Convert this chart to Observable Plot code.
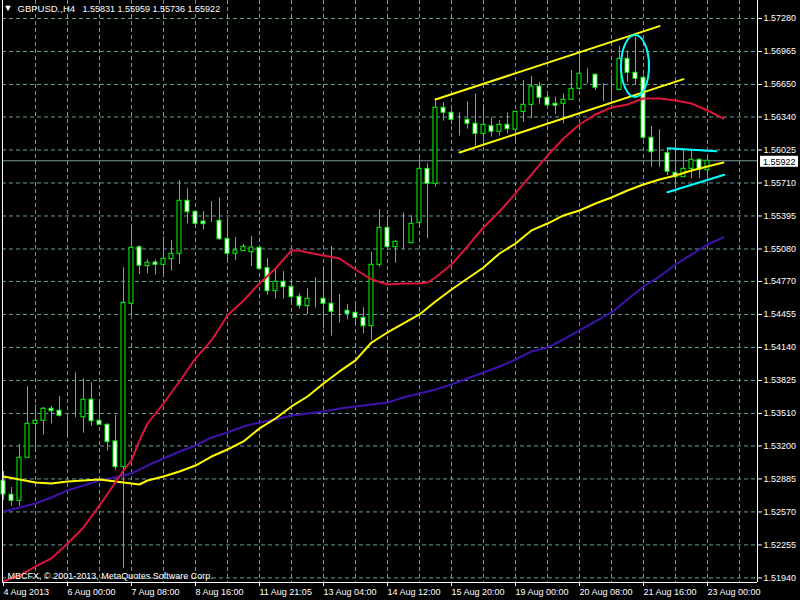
<!DOCTYPE html>
<html><head><meta charset="utf-8">
<script src="https://cdn.jsdelivr.net/npm/d3@7"></script>
<script src="https://cdn.jsdelivr.net/npm/@observablehq/plot@0.6"></script>
<style>html,body{margin:0;padding:0;background:#000;}#chart{width:800px;height:600px;}</style>
</head><body><div id="chart"></div>
<script>
// ---- data ----
const symbol = "GBPUSD.,H4";
const lastOHLC = [1.55831, 1.55959, 1.55736, 1.55922];
const copyright = "MBCFX, © 2001-2013, MetaQuotes Software Corp.";

const opens = [1.52864,1.52734,1.52676,1.53087,1.53411,1.53440,1.53555,1.53536,1.53497,1.53497,
1.53474,1.53641,1.53440,1.53402,1.53243,1.52997,1.54557,1.55097,1.54916,1.54951,
1.54929,1.54983,1.55034,1.55540,1.55435,1.55342,1.55345,1.55349,1.55177,1.55034,
1.55059,1.55049,1.55091,1.54897,1.54677,1.54767,1.54719,1.54624,1.54534,1.54610,
1.54605,1.54557,1.54480,1.54490,1.54471,1.54423,1.54343,1.54929,1.55282,1.55097,
1.55145,1.55135,1.55330,1.55845,1.55702,1.56428,1.56380,1.56319,1.56313,1.56275,
1.56179,1.56252,1.56199,1.56265,1.56218,1.56389,1.56456,1.56631,1.56523,1.56466,
1.56466,1.56504,1.56609,1.56752,1.56743,1.56612,1.56602,1.56599,1.56895,1.56762,
1.56714,1.56141,1.56001,1.55994,1.55807,1.55765,1.55845,1.55931,1.55831];
const highs = [1.52956,1.52803,1.53214,1.53767,1.53593,1.53567,1.53577,1.53672,1.53510,1.53898,
1.53841,1.53803,1.53612,1.53411,1.53491,1.54900,1.55311,1.55110,1.54977,1.54977,
1.55196,1.55161,1.55734,1.55655,1.55447,1.55438,1.55533,1.55569,1.55364,1.55190,
1.55123,1.55199,1.55104,1.54989,1.54887,1.54865,1.54795,1.54652,1.54700,1.54805,
1.54906,1.55104,1.54646,1.54550,1.54541,1.54519,1.55049,1.55454,1.55390,1.55160,
1.55425,1.55397,1.55937,1.55893,1.56514,1.56475,1.56409,1.56380,1.56485,1.56561,
1.56456,1.56332,1.56304,1.56380,1.56395,1.56688,1.56726,1.56669,1.56545,1.56529,
1.56561,1.56784,1.56953,1.56800,1.56752,1.56657,1.56736,1.57013,1.56968,1.57101,
1.56736,1.56249,1.56218,1.56036,1.56125,1.56020,1.56020,1.55941,1.55959];
const lows = [1.52679,1.52625,1.52625,1.53087,1.53173,1.53303,1.53411,1.53474,1.53287,1.53469,
1.53322,1.53389,1.53402,1.53150,1.52966,1.52030,1.54438,1.54834,1.54843,1.54830,
1.54834,1.54868,1.54932,1.55320,1.55314,1.55263,1.55333,1.55161,1.54944,1.54970,
1.55056,1.54913,1.54884,1.54636,1.54601,1.54601,1.54550,1.54505,1.54452,1.54515,
1.54318,1.54248,1.54372,1.54404,1.54350,1.54271,1.54207,1.54906,1.55066,1.54944,
1.55072,1.55129,1.55288,1.55177,1.55670,1.56300,1.56265,1.56157,1.56223,1.56061,
1.56084,1.56147,1.56157,1.56179,1.56084,1.56290,1.56323,1.56456,1.56440,1.56364,
1.56275,1.56504,1.56593,1.56657,1.56593,1.56488,1.56488,1.56599,1.56672,1.56641,
1.56125,1.55861,1.55861,1.55781,1.55655,1.55765,1.55750,1.55750,1.55736];
const closes = [1.52737,1.52676,1.53087,1.53411,1.53440,1.53555,1.53532,1.53488,1.53497,1.53497,
1.53641,1.53436,1.53402,1.53236,1.52997,1.54566,1.55091,1.54920,1.54948,1.54929,
1.54986,1.55034,1.55540,1.55431,1.55320,1.55317,1.55345,1.55173,1.55034,1.55066,
1.55101,1.55094,1.54887,1.54677,1.54767,1.54715,1.54620,1.54538,1.54605,1.54610,
1.54557,1.54480,1.54480,1.54461,1.54423,1.54343,1.54929,1.55282,1.55097,1.55149,
1.55145,1.55320,1.55845,1.55702,1.56428,1.56380,1.56313,1.56319,1.56275,1.56179,
1.56265,1.56199,1.56265,1.56223,1.56389,1.56456,1.56631,1.56523,1.56450,1.56447,
1.56504,1.56609,1.56752,1.56752,1.56619,1.56612,1.56602,1.56895,1.56762,1.56704,
1.56141,1.56004,1.56001,1.55817,1.55765,1.55845,1.55931,1.55836,1.55922];

// moving averages (bar index, price), drawn shifted 2 bars forward as in the terminal
const maRedIdx = [0,2,4,6,8,10,12,14,15,16,17,18,20,22,24,26,28,30,32,34,36,37,38,40,42,44,46,48,50,52,53,54,56,58,60,62,64,66,68,70,72,74,76,78,80,82,84,86,88,90];
const maRed = [1.51909,1.51963,1.52049,1.52126,1.52269,1.52422,1.52632,1.52851,1.52966,1.53061,1.53252,1.53414,
1.53605,1.53815,1.54035,1.54207,1.54445,1.54588,1.54751,1.54894,1.55066,1.55066,1.55047,1.55018,1.54989,1.54884,
1.54789,1.54741,1.54751,1.54751,1.54760,1.54808,1.54932,1.55104,1.55285,1.55438,1.55610,1.55791,1.55972,1.56135,
1.56268,1.56364,1.56431,1.56459,1.56516,1.56516,1.56497,1.56469,1.56402,1.56325];
const maYellowIdx = [0,2,4,6,8,10,12,14,16,17,18,20,22,24,26,28,30,32,34,36,38,40,42,44,46,48,50,52,54,56,58,60,62,64,66,68,70,72,74,76,78,80,82,84,86,88,90];
const maYellow = [1.52908,1.52880,1.52851,1.52842,1.52861,1.52870,1.52880,1.52861,1.52842,1.52832,1.52870,
1.52908,1.52956,1.53013,1.53099,1.53166,1.53243,1.53367,1.53462,1.53577,1.53672,1.53796,1.53911,1.54016,1.54187,
1.54283,1.54369,1.54455,1.54579,1.54693,1.54798,1.54903,1.55037,1.55132,1.55257,1.55323,1.55400,1.55447,1.55514,
1.55571,1.55638,1.55696,1.55743,1.55781,1.55829,1.55867,1.55906];
const maBlueIdx = [0,2,4,6,8,10,12,14,16,18,20,22,24,26,28,30,32,34,36,38,40,42,44,46,48,50,52,54,56,58,60,62,64,66,68,70,72,74,76,78,80,82,84,86,88,90];
const maBlue = [1.52574,1.52613,1.52651,1.52708,1.52775,1.52823,1.52870,1.52899,1.52937,1.53013,1.53080,1.53147,
1.53204,1.53281,1.53328,1.53386,1.53424,1.53452,1.53491,1.53510,1.53529,1.53557,1.53577,1.53596,1.53615,1.53662,
1.53701,1.53739,1.53787,1.53844,1.53901,1.53958,1.54025,1.54102,1.54140,1.54216,1.54302,1.54388,1.54474,1.54598,
1.54722,1.54817,1.54932,1.55027,1.55123,1.55190];

// hand-drawn annotations (bar index, price)
const channelUpper = [[54, 1.56507], [82, 1.57207]];
const channelLower = [[57, 1.56001], [85, 1.56701]];
const triUpper = [[83, 1.56042], [89.1, 1.56013]];
const triLower = [[83, 1.55622], [90.1, 1.55788]];
const ellipse = {x: 79, y: 1.56822, rx: 1.75, ry: 0.00296};

const xTickIndex = [0,8,16,24,32,40,48,56,64,72,80,88];
const xTickLabels = ["4 Aug 2013","6 Aug 00:00","7 Aug 08:00","8 Aug 16:00","11 Aug 21:05","13 Aug 04:00",
"14 Aug 12:00","15 Aug 20:00","19 Aug 00:00","20 Aug 08:00","21 Aug 16:00","23 Aug 00:00"];
const xGridIndex = [4,8,12,16,20,24,28,32,36,40,44,48,52,56,60,64,68,72,76,80,84,88,92];
const yTicks = [1.57280,1.56965,1.56650,1.56340,1.56025,1.55710,1.55395,1.55080,1.54770,1.54455,
1.54140,1.53825,1.53510,1.53200,1.52885,1.52570,1.52255,1.51940];
const xDomain = [-0.125, 94.25];
const yDomain = [1.518964, 1.574518];

// ---- build ----
const bars = opens.map((o, i) => ({i, o, h: highs[i], l: lows[i], c: closes[i]}));
const toPts = (idx, vals) => idx.map((x, i) => ({x, y: vals[i]}));
const pairPts = arr => arr.map(([x, y]) => ({x, y}));
const GRID = "#6a9a9a", LIME = "#00ff00";
const ohlcText = lastOHLC.map(v => v.toFixed(5)).join(" ");

const ellipseMark = (index, scales) => {
  const e = document.createElementNS("http://www.w3.org/2000/svg", "ellipse");
  const cx = scales.x(ellipse.x), cy = scales.y(ellipse.y);
  e.setAttribute("cx", cx); e.setAttribute("cy", cy);
  e.setAttribute("rx", Math.abs(scales.x(ellipse.x + ellipse.rx) - cx));
  e.setAttribute("ry", Math.abs(scales.y(ellipse.y + ellipse.ry) - cy));
  e.setAttribute("fill", "none"); e.setAttribute("stroke", "#00ffff"); e.setAttribute("stroke-width", 2);
  return e;
};
const priceBox = (index, scales, values, dims) => {
  const ns = "http://www.w3.org/2000/svg";
  const g = document.createElementNS(ns, "g");
  const y = scales.y(lastOHLC[3]);
  const x0 = dims.width - dims.marginRight + 3;
  const r = document.createElementNS(ns, "rect");
  r.setAttribute("x", x0); r.setAttribute("y", y - 4.5);
  r.setAttribute("width", dims.width - x0 - 2); r.setAttribute("height", 11);
  r.setAttribute("fill", "#fff");
  const t = document.createElementNS(ns, "text");
  t.setAttribute("x", x0 + 3); t.setAttribute("y", y + 4.5);
  t.setAttribute("text-anchor", "start");
  t.setAttribute("fill", "#000"); t.textContent = lastOHLC[3].toFixed(5);
  g.append(r, t);
  return g;
};

const chart = Plot.plot({
  width: 800, height: 600,
  marginLeft: 2, marginRight: 43, marginTop: 0, marginBottom: 18,
  x: {type: "linear", domain: xDomain, axis: null},
  y: {type: "linear", domain: yDomain, axis: null},
  style: {background: "#000", color: "#fff", fontFamily: "'Liberation Sans', Arial, sans-serif", fontSize: "9px", overflow: "visible"},
  marks: [
    Plot.ruleY(yTicks, {stroke: GRID, strokeDasharray: "4,3"}),
    Plot.ruleX(xGridIndex, {stroke: GRID, strokeDasharray: "4,3"}),
    Plot.ruleY([lastOHLC[3]], {stroke: "#7f9a9f"}),
    Plot.ruleX(bars, {x: "i", y1: "l", y2: "h", stroke: LIME}),
    Plot.rect(bars, {x1: d => d.i - 0.25, x2: d => d.i + 0.25, y1: "o", y2: "c",
      fill: d => d.c > d.o ? "#000" : "#fff", stroke: LIME, strokeWidth: 1}),
    Plot.line(toPts(maBlueIdx, maBlue), {x: "x", y: "y", stroke: "#3f12ad", strokeWidth: 2}),
    Plot.line(toPts(maYellowIdx, maYellow), {x: "x", y: "y", stroke: "#ffff00", strokeWidth: 2}),
    Plot.line(toPts(maRedIdx, maRed), {x: "x", y: "y", stroke: "#dc143c", strokeWidth: 2}),
    Plot.line(pairPts(channelUpper), {x: "x", y: "y", stroke: "#ffff00", strokeWidth: 2}),
    Plot.line(pairPts(channelLower), {x: "x", y: "y", stroke: "#ffff00", strokeWidth: 2}),
    Plot.line(pairPts(triUpper), {x: "x", y: "y", stroke: "#00ffff", strokeWidth: 2}),
    Plot.line(pairPts(triLower), {x: "x", y: "y", stroke: "#00ffff", strokeWidth: 2}),
    ellipseMark,
    Plot.ruleX([xDomain[0], xDomain[1]], {stroke: "#fff"}),
    Plot.ruleY([yDomain[0]], {stroke: "#fff"}),
    Plot.axisX({ticks: xTickIndex, tickFormat: d => xTickLabels[xTickIndex.indexOf(d)], anchor: "bottom",
      tickSize: 4, tickPadding: 2, textAnchor: "start", stroke: "#fff", fill: "#fff", label: null}),
    Plot.axisY({ticks: yTicks, tickFormat: d => d.toFixed(5), anchor: "right",
      tickSize: 4, tickPadding: 2, stroke: "#fff", fill: "#fff", label: null}),
    priceBox,
    Plot.text(["\u25BC"], {frameAnchor: "top-left", dx: 1, dy: 4, lineAnchor: "top", fill: "#fff", fontSize: 9}),
    Plot.text([symbol], {frameAnchor: "top-left", dx: 15, dy: 5, lineAnchor: "top", fill: "#fff", fontSize: 9.5}),
    Plot.text([ohlcText], {frameAnchor: "top-left", dx: 80, dy: 5, lineAnchor: "top", fill: "#fff"}),
    Plot.text([copyright], {frameAnchor: "bottom-left", dx: 5, dy: -4, lineAnchor: "bottom", fill: "#fff"})
  ]
});
document.getElementById("chart").append(chart);
</script>
</body></html>
